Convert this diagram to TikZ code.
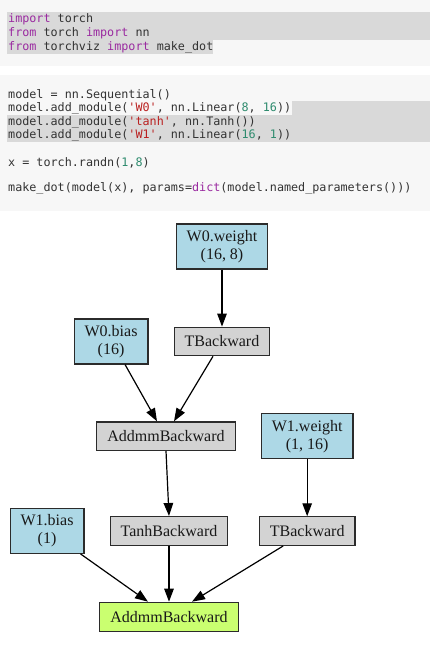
\documentclass[tikz,border=0pt]{standalone}
\usepackage{fontspec}
\usepackage{xcolor}
\usepackage{tikz}
\usetikzlibrary{positioning, arrows.meta, calc}
\setmainfont{Liberation Serif}
\newfontfamily\codefont{DejaVu Sans Mono}
\definecolor{cellbg}{HTML}{F7F7F7}
\definecolor{selgray}{HTML}{D9D9D9}
\definecolor{codetext}{HTML}{333333}
\definecolor{kwpurple}{HTML}{9A2AA0}
\definecolor{strred}{HTML}{BA2121}
\definecolor{numteal}{HTML}{2E8B6E}
\definecolor{parblue}{HTML}{ADD8E6}
\definecolor{opgray}{HTML}{D3D3D3}
\definecolor{outgreen}{HTML}{CAFF70}
\definecolor{edgegray}{HTML}{2B2B2B}
\newcommand{\kw}[1]{\textcolor{kwpurple}{#1}}
\newcommand{\strg}[1]{\textcolor{strred}{#1}}
\newcommand{\nm}[1]{\textcolor{numteal}{#1}}

\begin{document}
\begin{tikzpicture}[x=1pt, y=-1pt,
    codeline/.style={anchor=base west, inner sep=0pt, text=codetext,
      font=\codefont\fontsize{11.75}{14}\selectfont},
    gnode/.style={draw=edgegray, line width=1.2pt, inner xsep=10.5pt, inner ysep=2pt,
      align=center, text=black!90, font=\fontsize{16}{18}\selectfont},
    param/.style={gnode, fill=parblue, minimum height=45pt},
    opnode/.style={gnode, fill=opgray, minimum height=28.5pt},
    outnode/.style={gnode, fill=outgreen, minimum height=29pt},
    edge/.style={-{Triangle[length=13pt, width=9.5pt]}, line width=1.2pt, black}]
  \useasboundingbox (0,0) rectangle (430,649);

  % code cells
  \fill[cellbg] (0,0) rectangle (430,66);
  \fill[selgray] (7,12) rectangle (430,40);
  \fill[selgray] (7,40) rectangle (213,54);
  \node[codeline] (imp1) at (8,22.5) {\kw{import} torch};
  \node[codeline] (imp2) at (8,36.5) {\kw{from} torch \kw{import} nn};
  \node[codeline] (imp3) at (8,50.5) {\kw{from} torchviz \kw{import} make\_dot};

  \fill[cellbg] (0,75) rectangle (430,211);
  \fill[selgray] (292,101) rectangle (430,114.5);
  \fill[selgray] (7,114.5) rectangle (430,142);
  \node[codeline] (seq) at (8,98) {model = nn.Sequential()};
  \node[codeline] (add0) at (8,111.5) {model.add\_module(\strg{'W0'}, nn.Linear(\nm{8}, \nm{16}))};
  \node[codeline] (addt) at (8,125) {model.add\_module(\strg{'tanh'}, nn.Tanh())};
  \node[codeline] (add1) at (8,138.5) {model.add\_module(\strg{'W1'}, nn.Linear(\nm{16}, \nm{1}))};
  \node[codeline] (xin) at (8,166.5) {x = torch.randn(\nm{1},\nm{8})};
  \node[codeline] (mkdot) at (8,191.5) {make\_dot(model(x), params=\kw{dict}(model.named\_parameters()))};

  % graph
  \node[param] (w0w) at (222,246.5) {W0.weight\\(16, 8)};
  \node[opnode, below=57pt of w0w] (tb0) {TBackward};
  \node[param, left=25pt of tb0] (w0b) {W0.bias\\(16)};
  \node[opnode, below=65pt of tb0, xshift=-56pt] (mm0) {AddmmBackward};
  \node[param, right=25pt of mm0] (w1w) {W1.weight\\(1, 16)};
  \node[opnode, below=65pt of mm0, xshift=3pt] (tanh) {TanhBackward};
  \node[opnode, below=57pt of w1w] (tb1) {TBackward};
  \node[param, left=25pt of tanh] (w1b) {W1.bias\\(1)};
  \node[outnode, below=56pt of tanh] (mm1) {AddmmBackward};

  \draw[edge] (w0w.south) -- (tb0.north);
  \draw[edge] ([xshift=14pt]w0b.south) -- ([xshift=-9pt]mm0.north);
  \draw[edge] ([xshift=-9pt]tb0.south) -- ([xshift=8pt]mm0.north);
  \draw[edge] (mm0.south) -- (tanh.north);
  \draw[edge] (w1w.south) -- (tb1.north);
  \draw[edge] ([xshift=-4pt]w1b.south east) -- ([xshift=-21pt]mm1.north);
  \draw[edge] (tanh.south) -- (mm1.north);
  \draw[edge] ([xshift=-24pt]tb1.south) -- ([xshift=23pt]mm1.north);
\end{tikzpicture}
\end{document}
